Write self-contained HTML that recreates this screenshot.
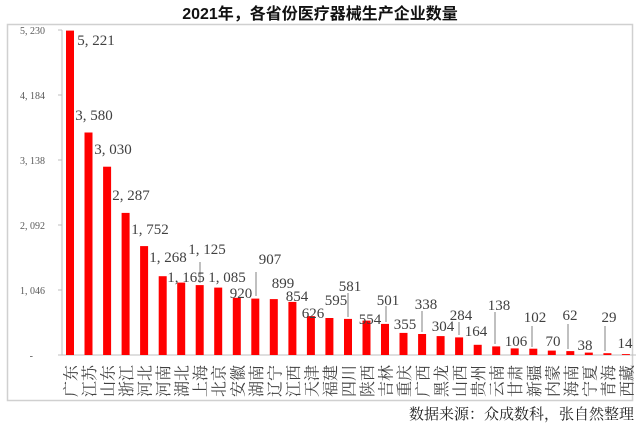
<!DOCTYPE html>
<html><head><meta charset="utf-8"><style>
html,body{margin:0;padding:0;background:#fff;}
svg{display:block;}
</style></head><body>
<svg width="640" height="427" xmlns="http://www.w3.org/2000/svg" font-family="'Liberation Serif','Noto Serif CJK SC',serif">
<rect x="7.5" y="24.5" width="625" height="376" fill="none" stroke="#d0d0d0" stroke-width="1.5"/>
<text x="320" y="19" text-anchor="middle" font-family="'Liberation Sans','Noto Sans CJK SC',sans-serif" font-weight="bold" font-size="16" fill="#111">2021年，各省份医疗器械生产企业数量</text>
<g stroke="#bfbfbf" stroke-width="1">
<line x1="62" y1="30" x2="62" y2="355"/>
<line x1="58" y1="30" x2="62" y2="30"/><line x1="58" y1="95" x2="62" y2="95"/><line x1="58" y1="160" x2="62" y2="160"/><line x1="58" y1="225" x2="62" y2="225"/><line x1="58" y1="290" x2="62" y2="290"/>
<line x1="58" y1="355" x2="636" y2="355"/>
</g>
<g font-size="10" fill="#595959" text-anchor="end">
<text x="45" y="34">5, 230</text><text x="45" y="99">4, 184</text><text x="45" y="164">3, 138</text><text x="45" y="229">2, 092</text><text x="45" y="294">1, 046</text><text x="33" y="359">-</text>
</g>
<g fill="#ff0000">
<rect x="66" y="30.6" width="8" height="324.4"/>
<rect x="84.5" y="132.5" width="8" height="222.5"/>
<rect x="103.1" y="166.7" width="8" height="188.3"/>
<rect x="121.6" y="212.9" width="8" height="142.1"/>
<rect x="140.1" y="246.1" width="8" height="108.9"/>
<rect x="158.7" y="276.2" width="8" height="78.8"/>
<rect x="177.2" y="282.6" width="8" height="72.4"/>
<rect x="195.7" y="285.1" width="8" height="69.9"/>
<rect x="214.2" y="287.6" width="8" height="67.4"/>
<rect x="232.8" y="297.8" width="8" height="57.2"/>
<rect x="251.3" y="298.6" width="8" height="56.4"/>
<rect x="269.8" y="299.1" width="8" height="55.9"/>
<rect x="288.4" y="301.9" width="8" height="53.1"/>
<rect x="306.9" y="316.1" width="8" height="38.9"/>
<rect x="325.4" y="318.0" width="8" height="37"/>
<rect x="344" y="318.9" width="8" height="36.1"/>
<rect x="362.5" y="320.6" width="8" height="34.4"/>
<rect x="381" y="323.9" width="8" height="31.1"/>
<rect x="399.5" y="332.9" width="8" height="22.1"/>
<rect x="418.1" y="334.0" width="8" height="21"/>
<rect x="436.6" y="336.1" width="8" height="18.9"/>
<rect x="455.1" y="337.4" width="8" height="17.6"/>
<rect x="473.7" y="344.8" width="8" height="10.2"/>
<rect x="492.2" y="346.4" width="8" height="8.6"/>
<rect x="510.7" y="348.4" width="8" height="6.6"/>
<rect x="529.3" y="348.7" width="8" height="6.3"/>
<rect x="547.8" y="350.6" width="8" height="4.4"/>
<rect x="566.3" y="351.1" width="8" height="3.9"/>
<rect x="584.8" y="352.6" width="8" height="2.4"/>
<rect x="603.4" y="353.2" width="8" height="1.8"/>
<rect x="621.9" y="354.1" width="8" height="0.9"/>
</g>
<g stroke="#808080" stroke-width="1">
<line x1="200" y1="262" x2="200" y2="283"/>
<line x1="256" y1="272" x2="256" y2="296"/>
<line x1="348" y1="293" x2="348" y2="317"/>
<line x1="386" y1="306" x2="386" y2="322"/>
<line x1="422" y1="311" x2="422" y2="332"/>
<line x1="459" y1="322" x2="459" y2="335"/>
<line x1="495" y1="312" x2="495" y2="344"/>
<line x1="532" y1="326" x2="532" y2="347"/>
<line x1="568" y1="324" x2="568" y2="349"/>
<line x1="605" y1="326" x2="605" y2="351"/>
</g>
<g font-size="15" fill="#404040" text-anchor="middle">
<text x="96" y="45">5, 221</text>
<text x="94" y="120">3, 580</text>
<text x="113" y="154">3, 030</text>
<text x="131" y="200">2, 287</text>
<text x="150" y="234">1, 752</text>
<text x="168" y="262">1, 268</text>
<text x="186" y="282">1, 165</text>
<text x="207" y="254">1, 125</text>
<text x="227" y="282">1, 085</text>
<text x="241" y="298">920</text>
<text x="270" y="264">907</text>
<text x="283" y="288">899</text>
<text x="297" y="301">854</text>
<text x="313" y="318">626</text>
<text x="336" y="305">595</text>
<text x="350" y="291">581</text>
<text x="370" y="324">554</text>
<text x="388" y="305">501</text>
<text x="405" y="329">355</text>
<text x="426" y="309">338</text>
<text x="443" y="331">304</text>
<text x="461" y="320">284</text>
<text x="476" y="336">164</text>
<text x="499" y="310">138</text>
<text x="516" y="346">106</text>
<text x="535" y="322">102</text>
<text x="553" y="346">70</text>
<text x="570" y="320">62</text>
<text x="585" y="350">38</text>
<text x="609" y="322">29</text>
<text x="625" y="348">14</text>
</g>
<g font-size="16" fill="#404040">
<text transform="translate(76.5,397) rotate(-90)">广东</text>
<text transform="translate(95,397) rotate(-90)">江苏</text>
<text transform="translate(113.6,397) rotate(-90)">山东</text>
<text transform="translate(132.1,397) rotate(-90)">浙江</text>
<text transform="translate(150.6,397) rotate(-90)">河北</text>
<text transform="translate(169.2,397) rotate(-90)">河南</text>
<text transform="translate(187.7,397) rotate(-90)">湖北</text>
<text transform="translate(206.2,397) rotate(-90)">上海</text>
<text transform="translate(224.7,397) rotate(-90)">北京</text>
<text transform="translate(243.3,397) rotate(-90)">安徽</text>
<text transform="translate(261.8,397) rotate(-90)">湖南</text>
<text transform="translate(280.3,397) rotate(-90)">辽宁</text>
<text transform="translate(298.9,397) rotate(-90)">江西</text>
<text transform="translate(317.4,397) rotate(-90)">天津</text>
<text transform="translate(335.9,397) rotate(-90)">福建</text>
<text transform="translate(354.5,397) rotate(-90)">四川</text>
<text transform="translate(373,397) rotate(-90)">陕西</text>
<text transform="translate(391.5,397) rotate(-90)">吉林</text>
<text transform="translate(410,397) rotate(-90)">重庆</text>
<text transform="translate(428.6,397) rotate(-90)">广西</text>
<text transform="translate(447.1,397) rotate(-90)">黑龙</text>
<text transform="translate(465.6,397) rotate(-90)">山西</text>
<text transform="translate(484.2,397) rotate(-90)">贵州</text>
<text transform="translate(502.7,397) rotate(-90)">云南</text>
<text transform="translate(521.2,397) rotate(-90)">甘肃</text>
<text transform="translate(539.8,397) rotate(-90)">新疆</text>
<text transform="translate(558.3,397) rotate(-90)">内蒙</text>
<text transform="translate(576.8,397) rotate(-90)">海南</text>
<text transform="translate(595.3,397) rotate(-90)">宁夏</text>
<text transform="translate(613.9,397) rotate(-90)">青海</text>
<text transform="translate(632.4,397) rotate(-90)">西藏</text>
</g>
<text x="634" y="419" text-anchor="end" font-size="15" fill="#222">数据来源：众成数科，张自然整理</text>
</svg>
</body></html>
